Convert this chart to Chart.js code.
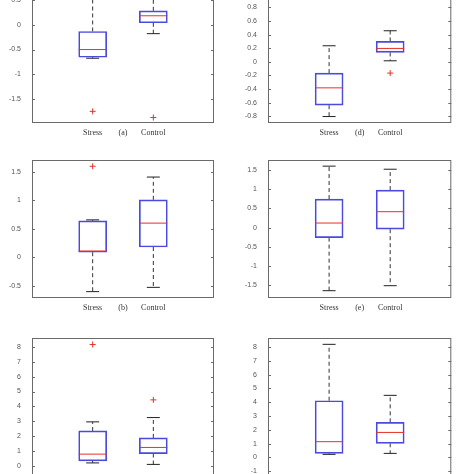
<!DOCTYPE html>
<html>
<head>
<meta charset="utf-8">
<script src="https://cdn.jsdelivr.net/npm/chart.js@4"></script>
<style>
  body { margin: 0; width: 474px; height: 474px; overflow: hidden; background: #fff; position: relative; }
  canvas { position: absolute; }
</style>
</head>
<body>
<script>
// groups on the x axis and the letter of each panel (panel order: a, d, b, e, c, f)
const categories = ["Stress", "Control"];
const panelLetters = ["(a)", "(d)", "(b)", "(e)", "(c)", "(f)"];

// box plot values, [Stress, Control] per panel
const whiskerLow = [[-0.675, -0.18], [-0.805, 0.015], [-0.605, -0.53], [-1.64, -1.51], [0.2, 0.1], [0.22, 0.29]];
const quart1 = [[-0.655, 0.04], [-0.638, 0.138], [0.088, 0.18], [-0.26, -0.04], [0.34, 0.83], [0.29, 1.02]];
const medians = [[-0.5, 0.18], [-0.383, 0.197], [0.11, 0.6], [0.12, 0.415], [0.79, 1.24], [1.14, 1.81]];
const quart3 = [[-0.136, 0.28], [-0.166, 0.3], [0.64, 1.01], [0.744, 0.977], [2.35, 1.88], [4.11, 2.54]];
const whiskerHigh = [[0.55, 0.7], [0.236, 0.457], [0.657, 1.41], [1.6, 1.52], [2.96, 3.25], [8.2, 4.5]];
const outliers = [[[-1.745], [-1.87]], [[], [-0.166]], [[1.6], []], [[], []], [[8.16], [4.44]], [[], []]];

// y axis ranges and tick steps
const yMin = [-1.98, -0.9, -0.717, -1.83, -0.68, -1.35];
const yMax = [0.8, 1.13, 1.71, 1.76, 8.6, 8.66];
const yStep = [0.5, 0.2, 0.5, 0.5, 1, 1];

// canvas placement (the figure is cropped, so top and bottom rows run off the page)
const colLeft = [0, 236];
const rowTop = [-17.3, 158, 335.7];

const framePlugin = {
  id: "frame",
  afterDatasetsDraw(chart) {
    const ctx = chart.ctx;
    const a = chart.chartArea;
    const y = chart.scales.y;
    ctx.save();
    ctx.strokeStyle = "#6a6a6a";
    ctx.lineWidth = 1;
    ctx.strokeRect(a.left + 0.5, a.top + 0.5, a.right - a.left - 1, a.bottom - a.top - 1);
    ctx.beginPath();
    y.ticks.forEach(t => {
      const py = Math.round(y.getPixelForValue(t.value)) + 0.5;
      ctx.moveTo(a.left, py); ctx.lineTo(a.left + 3, py);
      ctx.moveTo(a.right, py); ctx.lineTo(a.right - 3, py);
    });
    ctx.stroke();
    ctx.restore();
  }
};

function makePanel(p) {
  const col = p % 2, row = Math.floor(p / 2);
  const canvas = document.createElement("canvas");
  canvas.width = col === 0 ? 237 : 238;
  canvas.height = 160;
  canvas.style.left = colLeft[col] + "px";
  canvas.style.top = rowTop[row] + "px";
  document.body.appendChild(canvas);

  const xs = [1, 2];
  const boxes = xs.map((x, i) => ({ x: x, y: [quart1[p][i], quart3[p][i]] }));
  const whiskers = [];
  xs.forEach((x, i) => {
    whiskers.push({ x: x, y: quart3[p][i] }, { x: x, y: whiskerHigh[p][i] }, { x: x, y: null });
    whiskers.push({ x: x, y: quart1[p][i] }, { x: x, y: whiskerLow[p][i] }, { x: x, y: null });
  });
  const caps = [];
  xs.forEach((x, i) => {
    caps.push({ x: x, y: whiskerHigh[p][i] }, { x: x, y: whiskerLow[p][i] });
  });
  const meds = xs.map((x, i) => ({ x: x, y: medians[p][i] }));
  const outs = [];
  xs.forEach((x, i) => outliers[p][i].forEach(v => outs.push({ x: x, y: v })));

  const xLabels = { 1: categories[0], 1.5: panelLetters[p], 2: categories[1] };

  new Chart(canvas.getContext("2d"), {
    type: "bar",
    data: {
      datasets: [
        { type: "line", data: whiskers, borderColor: "#333", borderWidth: 1, borderDash: [4, 3],
          pointRadius: 0, spanGaps: false, order: 4 },
        { type: "bar", data: boxes, borderColor: "#4a4ae0", borderWidth: 1, borderSkipped: false,
          backgroundColor: "rgba(0,0,0,0)", barThickness: 28, order: 3 },
        { type: "line", data: caps, showLine: false, pointStyle: "line", pointRadius: 6.5,
          pointBorderColor: "#222", pointBorderWidth: 1, order: 2 },
        { type: "line", data: meds, showLine: false, pointStyle: "line", pointRadius: 14,
          pointBorderColor: "#e8302a", pointBorderWidth: 1, order: 1 },
        { type: "line", data: outs, showLine: false, pointStyle: "cross", pointRadius: 3,
          pointBorderColor: "#e8302a", pointBorderWidth: 1, order: 0 }
      ]
    },
    options: {
      responsive: false,
      animation: false,
      events: [],
      layout: { autoPadding: false, padding: { left: 0, right: col === 0 ? 23 : 22.7, top: 2, bottom: 0 } },
      plugins: { legend: { display: false }, tooltip: { enabled: false } },
      scales: {
        x: {
          type: "linear", min: 0.5, max: 2.5,
          grid: { display: false }, border: { display: false },
          afterBuildTicks: s => { s.ticks = [1, 1.5, 2].map(v => ({ value: v })); },
          afterFit: s => { s.height = 20; s.paddingLeft = 0; s.paddingRight = 0; },
          ticks: {
            autoSkip: false, maxRotation: 0, padding: -3, color: "#333",
            font: { family: "Liberation Serif", size: 8 },
            callback: v => xLabels[v]
          }
        },
        y: {
          min: yMin[p], max: yMax[p],
          grid: { display: false }, border: { display: false },
          afterFit: s => { s.width = 32; s.paddingTop = 0; s.paddingBottom = 0; },
          ticks: {
            stepSize: yStep[p], includeBounds: false, padding: 3, color: "#555",
            font: { family: "Liberation Sans", size: 7 },
            callback: v => String(Number(v.toFixed(3)))
          }
        }
      }
    },
    plugins: [framePlugin]
  });
}

window.onload = function () {
  for (let p = 0; p < 6; p++) {
    makePanel(p);
  }
};
</script>
</body>
</html>
